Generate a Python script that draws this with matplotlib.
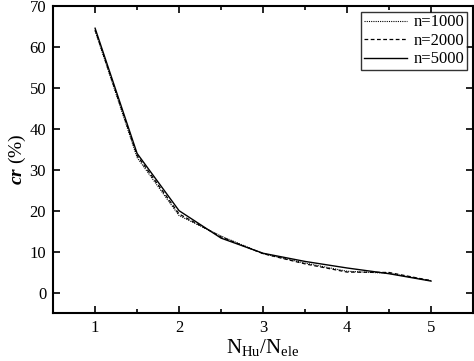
import matplotlib
matplotlib.use("Agg")
import matplotlib.pyplot as plt
from matplotlib.ticker import MultipleLocator

plt.rcParams['font.family'] = ['Liberation Serif', 'DejaVu Serif']
plt.rcParams['mathtext.fontset'] = 'custom'
plt.rcParams['mathtext.rm'] = 'Liberation Serif'
plt.rcParams['mathtext.it'] = 'Liberation Serif:italic:bold'

ratio = [1, 1.5, 2, 2.5, 3, 3.5, 4, 4.5, 5]
n1000 = [64.0, 33.0, 18.8, 13.8, 9.5, 7.2, 5.2, 4.7, 2.9]
n2000 = [64.2, 33.5, 19.2, 13.6, 9.5, 7.0, 5.0, 4.9, 2.9]
n5000 = [64.6, 34.0, 20.0, 13.3, 9.6, 7.6, 6.0, 4.6, 2.8]
labels = ['n=1000', 'n=2000', 'n=5000']

fig = plt.figure(figsize=(4.74, 3.61), dpi=100)
ax = fig.add_axes([0.112, 0.133, 0.886, 0.850])

ax.plot(ratio, n1000, color='black', linestyle=(0, (1, 1)), linewidth=0.8, label=labels[0])
ax.plot(ratio, n2000, color='black', linestyle=(0, (3, 2)), linewidth=0.9, label=labels[1])
ax.plot(ratio, n5000, color='black', linestyle='-', linewidth=1.0, label=labels[2])

ax.set_xlim(0.5, 5.5)
ax.set_ylim(-5, 70)
ax.xaxis.set_major_locator(MultipleLocator(1))
ax.xaxis.set_minor_locator(MultipleLocator(0.5))
ax.yaxis.set_major_locator(MultipleLocator(10))
ax.tick_params(which='both', direction='in', top=True, right=True, labelsize=12, width=1.2)
ax.tick_params(which='major', length=5, pad=5)
ax.tick_params(which='minor', length=3)
ax.tick_params(axis='y', which='minor', left=False, right=False)
for s in ax.spines.values():
    s.set_linewidth(1.5)

ax.set_xlabel(r'$\mathrm{N_{Hu}/N_{ele}}$', fontsize=15, labelpad=1)
ax.set_ylabel(r'$\mathit{cr}$ (%)', fontsize=14, labelpad=1)

leg = ax.legend(loc='upper right', fontsize=12, frameon=True, fancybox=False,
                edgecolor='black', handlelength=2.6, borderaxespad=0.35,
                labelspacing=0.15, borderpad=0.15, handletextpad=0.4)
leg.get_frame().set_linewidth(1.0)

fig.savefig('out.png', dpi=100)
